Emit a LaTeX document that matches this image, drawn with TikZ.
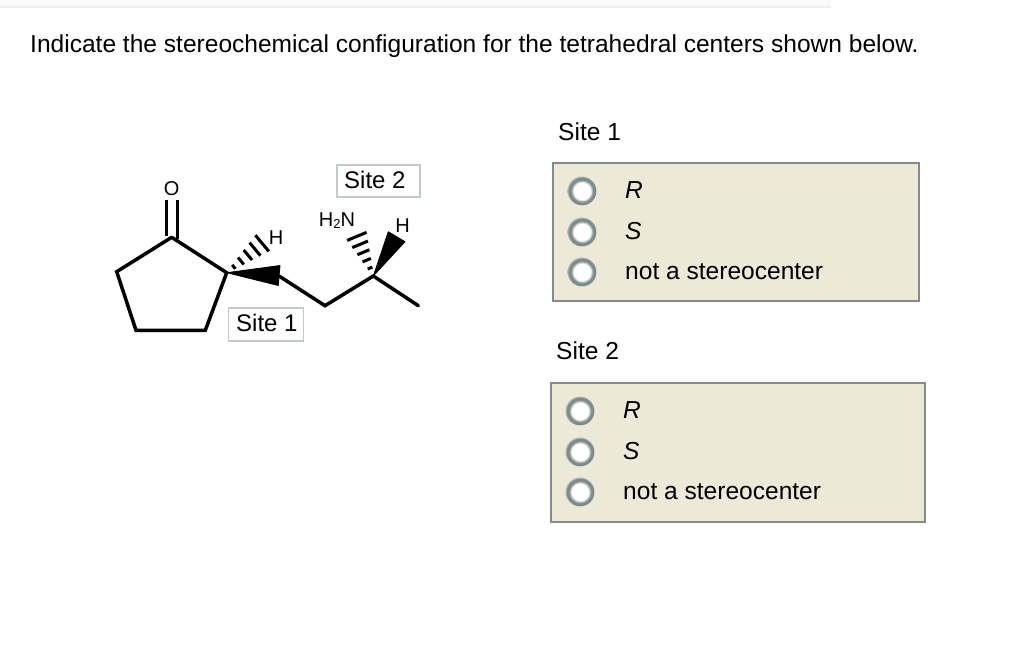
\documentclass[tikz,border=0pt]{standalone}
\usepackage{fontspec}
\setmainfont{Liberation Sans}
\usetikzlibrary{calc}
\definecolor{panelfill}{HTML}{ECE9D8}
\definecolor{panelline}{HTML}{858B86}
\definecolor{sitebox}{HTML}{C4CACA}
\definecolor{radioring}{HTML}{7F8B89}
\definecolor{radiomid}{HTML}{B5BDBB}
\pgfdeclareradialshading{radioshade}{\pgfpoint{0bp}{0bp}}{%
  color(0bp)=(white); color(14.5bp)=(white); color(17bp)=(radiomid);
  color(19.5bp)=(radioring); color(23bp)=(radioring); color(25bp)=(radiomid); color(50bp)=(white)}
\tikzset{
  x=1pt,y=-1pt,
  txt/.style={inner sep=0pt,anchor=base west,text=black,font=\fontsize{24.55}{28}\selectfont},
  sitetxt/.style={inner sep=0pt,anchor=base west,text=black,font=\fontsize{24}{28}\selectfont},
  chem/.style={inner sep=0pt,text=black,font=\fontsize{20}{22}\selectfont},
  sitelabel/.style={draw=sitebox,line width=1.6pt,fill=white,inner sep=0pt},
  panel/.style={draw=panelline,line width=2.6pt,fill=panelfill,inner sep=0pt},
  bond/.style={line width=3.5pt,line join=miter,line cap=round,black},
  wedgebond/.style={fill=black,draw=black,line width=0.8pt,line join=round},
  radio/.style={circle,minimum size=29pt,inner sep=0pt,shading=radioshade},
}
\newcommand{\hashbond}[2]{%
  \foreach \t/\w in {0.18/2.5,0.36/4.5,0.54/6.5,0.72/8.5,0.90/10.5}{
    \draw[line width=3pt,black]
      ($(#1)!\t!(#2)!\w pt!90:(#2)$) -- ($(#1)!\t!(#2)!\w pt!-90:(#2)$);
  }}
\begin{document}
\begin{tikzpicture}
\useasboundingbox (0,0) rectangle (1024,661);
\fill[white] (0,0) rectangle (1024,661);
% top strip
\fill[black!2] (0,0) rectangle (831,6);
\fill[black!7] (0,6) rectangle (831,8);
% title
\node[txt] (title) at (30,52.5) {Indicate the stereochemical configuration for the tetrahedral centers shown below.};
% headings
\node[txt] (h1) at (558,140) {Site 1};
\node[txt] (h2) at (556,359.5) {Site 2};
% panels
\node[panel,minimum width=366pt,minimum height=138pt] (p1) at (736,232) {};
\node[panel,minimum width=374pt,minimum height=139pt] (p2) at (738,452.5) {};
% radios
\node[radio] (r11) at (582,191) {};
\node[radio] (r12) at (582,232) {};
\node[radio] (r13) at (582,272) {};
\node[radio] (r21) at (580,411) {};
\node[radio] (r22) at (580,452) {};
\node[radio] (r23) at (580,492) {};
% options
\node[txt] (o11) at (625,198) {\itshape R};
\node[txt] (o12) at (625,239) {\itshape S};
\node[txt] (o13) at (625,279.5) {not a stereocenter};
\node[txt] (o21) at (623,418) {\itshape R};
\node[txt] (o22) at (623,459) {\itshape S};
\node[txt] (o23) at (623,499.5) {not a stereocenter};
% atoms
\coordinate (c1) at (171.7,237.3);
\coordinate (c2) at (116.7,271.7);
\coordinate (c3) at (136,330.3);
\coordinate (c4) at (205.3,330.3);
\coordinate (c5) at (226.7,272.7);
\coordinate (w1a) at (280,265.5);
\coordinate (w1b) at (278.3,285.5);
\coordinate (c6) at (279,276);
\coordinate (c7) at (325,305.7);
\coordinate (c8) at (373.3,276);
\coordinate (c9) at (418.3,305.7);
\coordinate (w2a) at (388.3,231.7);
\coordinate (w2b) at (405,241.7);
\coordinate (h1end) at (266,240);
\coordinate (h2end) at (355,232);
\coordinate (oa) at (166.7,199.5);
\coordinate (ob) at (177,199.5);
\coordinate (oa2) at (166.7,236);
\coordinate (ob2) at (177,239);
% bonds
\draw[bond] (c1) -- (c2) -- (c3) -- (c4) -- (c5) -- (c1);
\draw[line width=3pt] (oa) -- (oa2);
\draw[line width=3pt] (ob) -- (ob2);
\filldraw[wedgebond] (c5) -- (w1a) -- (w1b) -- cycle;
\filldraw[wedgebond] (c8) -- (w2a) -- (w2b) -- cycle;
\draw[bond] (c6) -- (c7) -- (c8) -- (c9);
\hashbond{c5}{h1end}
\hashbond{c8}{h2end}
% atom labels
\node[chem] (oxy) at (171.7,188.3) {O};
\node[chem] (hone) at (276,237.7) {H};
\node[chem] (nh) at (337,220.7) {H\raisebox{-0.25ex}{\fontsize{13}{15}\selectfont 2}N};
\node[chem] (htwo) at (402.7,225.7) {H};
% site labels
\node[sitelabel,minimum width=83pt,minimum height=32pt] (s2) at (378.7,180.7) {};
\node[sitelabel,minimum width=75pt,minimum height=33pt] (s1) at (266,324.5) {};
\node[sitetxt] (s2t) at (344,188) {Site 2};
\node[sitetxt] (s1t) at (236,331) {Site 1};
\end{tikzpicture}
\end{document}
